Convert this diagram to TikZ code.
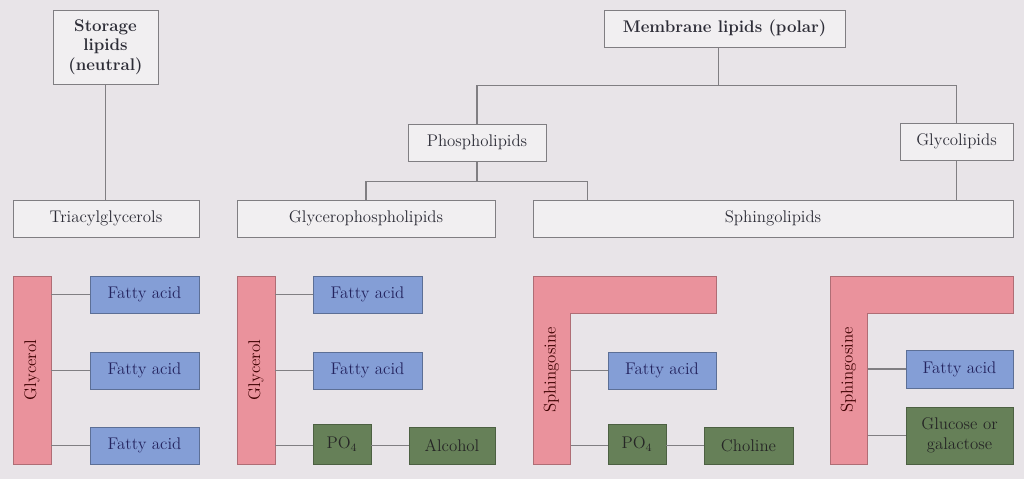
\documentclass[tikz,border=0pt]{standalone}
\usepackage{amsmath,amssymb}
\usepackage{tikz}
\usetikzlibrary{positioning,calc}
\definecolor{pagebg}{RGB}{232,228,232}
\definecolor{boxline}{RGB}{128,126,130}
\definecolor{inkgrey}{RGB}{45,45,55}
\definecolor{glycpink}{RGB}{234,146,156}
\definecolor{acidblue}{RGB}{132,158,214}
\definecolor{headgreen}{RGB}{102,128,88}
\tikzset{
  classbox/.style={draw=boxline,fill=pagebg!60!white,inner sep=0pt,font=\large,text=inkgrey,align=center},
  acidbox/.style={draw=acidblue!70!black,fill=acidblue,inner sep=0pt,minimum height=0.925cm,font=\large,text=inkgrey!80!blue},
  headbox/.style={draw=headgreen!75!black,fill=headgreen,inner sep=0pt,font=\large,text=black!85,align=center},
  backbone/.style={draw=glycpink!75!black,fill=glycpink,inner sep=0pt,minimum width=0.95cm,minimum height=4.7cm,font=\large,text=black!60!red!60!black},
  linker/.style={draw=boxline,line width=0.8pt}
}

\begin{document}
\begin{tikzpicture}[x=0.025cm,y=-0.025cm]
\fill[pagebg] (0,0) rectangle (1024,479);
% classification tree
\node[classbox,font=\large\bfseries,minimum width=2.625cm,minimum height=1.85cm] (storage) at (105.5,47) {Storage\\lipids\\(neutral)};
\node[classbox,font=\large\bfseries,minimum width=6.025cm,minimum height=0.925cm] (membrane) at (724.5,28.5) {Membrane lipids (polar)};
\node[classbox,minimum width=3.45cm,minimum height=0.925cm] (phospho) at (477,142.5) {Phospholipids};
\node[classbox,minimum width=2.825cm,minimum height=0.925cm] (glyco) at (956.5,141.5) {Glycolipids};
\node[classbox,minimum width=4.65cm,minimum height=0.925cm] (triacyl) at (106,218.5) {Triacylglycerols};
\node[classbox,minimum width=6.45cm,minimum height=0.925cm] (glycphos) at (366,218.5) {Glycerophospholipids};
\node[classbox,minimum width=12cm,minimum height=0.925cm] (sphingo) at (773,218.5) {Sphingolipids};
\draw[linker] (storage)--(storage.south |- triacyl.north);
\draw[linker] ([xshift=-0.15cm]membrane.south)--++(0,38) coordinate (mj);
\draw[linker] (mj)-|(phospho.north);\draw[linker] (mj)-|(glyco.north);
\draw[linker] (phospho.south)--++(0,20) coordinate (pj);
\draw[linker] (pj)-|(glycphos.north);\draw[linker] (pj)-|([xshift=1.375cm]sphingo.north west);
\draw[linker] (glyco.south)--(glyco.south |- sphingo.north);
% triacylglycerol
\node[backbone] (gly1) at (32,370) {\rotatebox{90}{Glycerol}};
\node[acidbox,minimum width=2.725cm] (fa11) at (144.5,294.5) {Fatty acid};
\node[acidbox,minimum width=2.725cm] (fa12) at (144.5,370.5) {Fatty acid};
\node[acidbox,minimum width=2.725cm] (fa13) at (144.5,445.5) {Fatty acid};
\foreach \f in {fa11,fa12,fa13} \draw[linker] (gly1.east |- \f)--(\f);
% glycerophospholipid
\node[backbone] (gly2) at (256,370) {\rotatebox{90}{Glycerol}};
\node[acidbox,minimum width=2.725cm] (fa21) at (367.5,294.5) {Fatty acid};
\node[acidbox,minimum width=2.725cm] (fa22) at (367.5,370.5) {Fatty acid};
\node[headbox,minimum width=1.45cm,minimum height=1cm] (po1) at (342,444) {PO$_4$};
\node[headbox,minimum width=2.15cm,minimum height=0.925cm] (alc) at (452,445.5) {Alcohol};
\foreach \f in {fa21,fa22} \draw[linker] (gly2.east |- \f)--(\f);
\draw[linker] (gly2.east |- alc)--(po1.west |- alc);
\draw[linker] (po1.east |- alc)--(alc);
% sphingomyelin
\filldraw[fill=glycpink,draw=glycpink!75!black] (533,276)--(716,276)--(716,313)--(570,313)--(570,464)--(533,464)--cycle;
\node[backbone,draw=none,fill=none] (sph1) at (551.5,370) {\rotatebox{90}{Sphingosine}};
\node[acidbox,minimum width=2.7cm] (sfa1) at (662,370.5) {Fatty acid};
\node[headbox,minimum width=1.45cm,minimum height=1cm] (po2) at (637,444) {PO$_4$};
\node[headbox,minimum width=2.225cm,minimum height=0.925cm] (cho) at (748.5,445.5) {Choline};
\draw[linker] (sph1.east |- sfa1)--(sfa1);
\draw[linker] (sph1.east |- cho)--(po2.west |- cho);
\draw[linker] (po2.east |- cho)--(cho);
% glycolipid
\filldraw[fill=glycpink,draw=glycpink!75!black] (830,276)--(1013,276)--(1013,313)--(867,313)--(867,464)--(830,464)--cycle;
\node[backbone,draw=none,fill=none] (sph2) at (848.5,370) {\rotatebox{90}{Sphingosine}};
\node[acidbox,minimum width=2.675cm,minimum height=0.95cm] (sfa2) at (959.5,369) {Fatty acid};
\node[headbox,minimum width=2.675cm,minimum height=1.425cm] (sugar) at (959.5,435.5) {Glucose or\\galactose};
\foreach \f in {sfa2,sugar} \draw[linker] (sph2.east |- \f)--(\f);
\end{tikzpicture}
\end{document}
